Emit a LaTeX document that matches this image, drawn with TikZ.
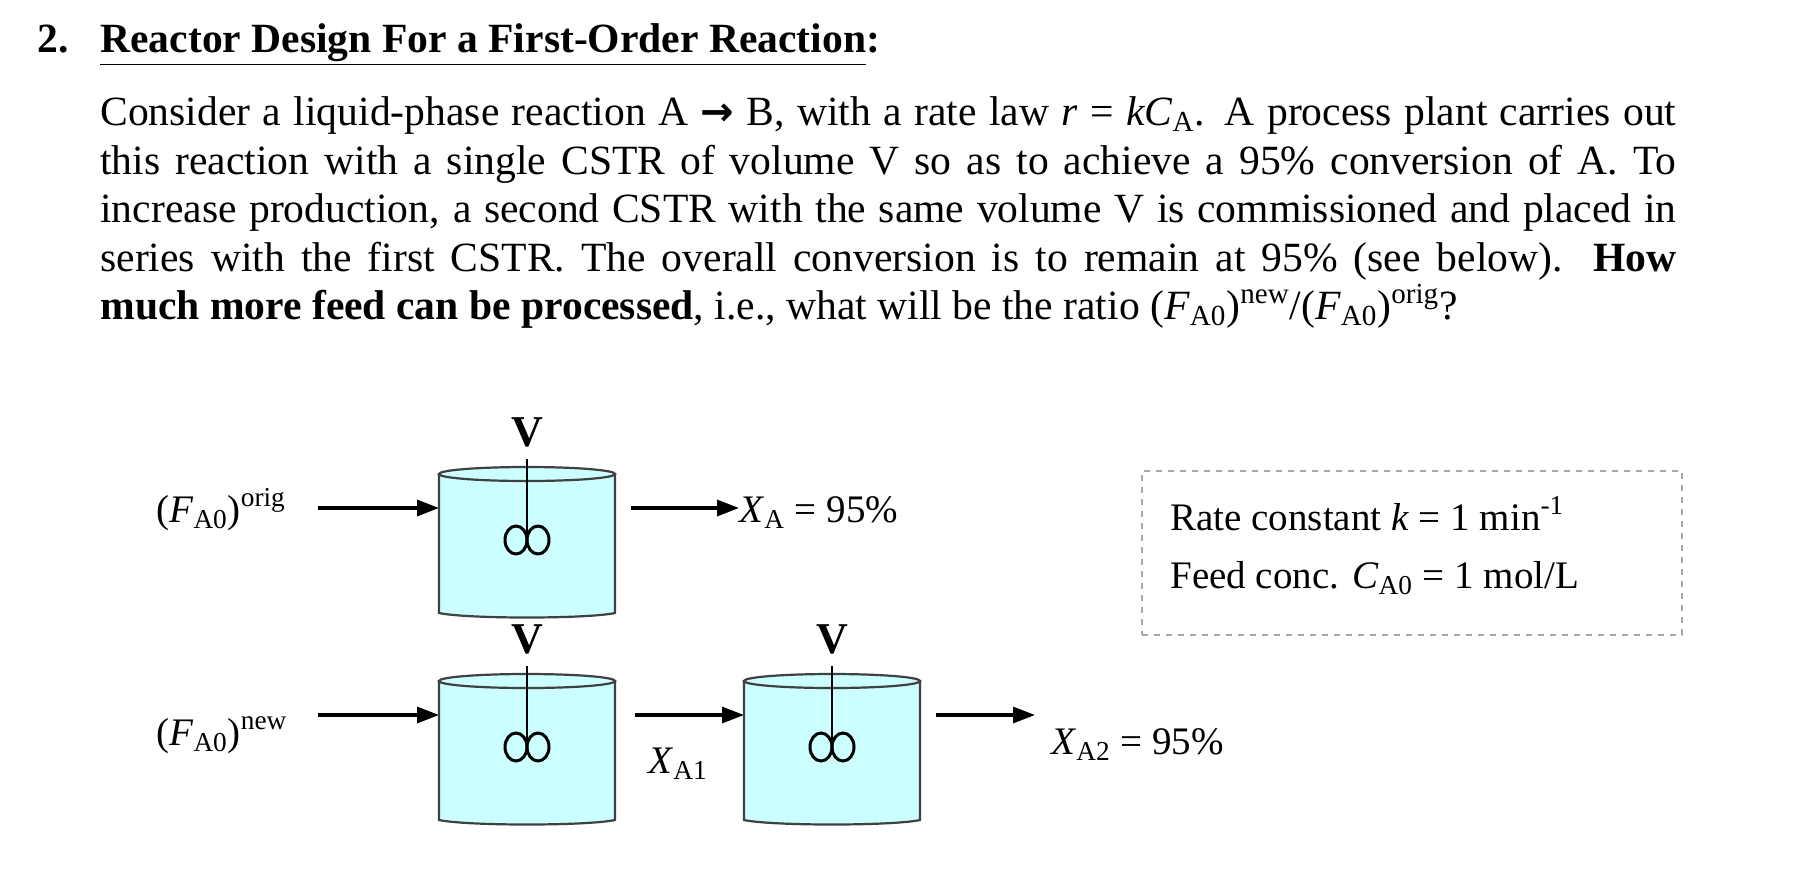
\documentclass[tikz,border=0pt]{standalone}
\usepackage{fontspec}
\setmainfont{Liberation Serif}
\usetikzlibrary{arrows.meta}
\definecolor{liq}{RGB}{204,255,255}
\tikzset{
  flow/.style={line width=1.6pt,-{Triangle[length=11pt,width=8pt]}},
  vlbl/.style={font=\fontsize{22}{24}\selectfont\bfseries,inner sep=0pt},
  txt/.style={font=\fontsize{20.8}{24}\selectfont,inner sep=0pt,anchor=base west},
  dtxt/.style={font=\fontsize{19.5}{24}\selectfont,inner sep=0pt,anchor=base west},
  imp/.style={line width=1.5pt}
}
\newcommand{\reactor}[3]{% x, ytop, name
  \begin{scope}[shift={(#1,#2)}]
    \path[fill=liq,draw=black!75,line width=1.1pt] (-88,0) -- (-88,139) .. controls (-60,145) and (60,145) .. (88,139) -- (88,0) -- cycle;
    \draw[fill=liq,draw=black!75,line width=1.1pt] (0,0) ellipse (88 and 7);
    \node[vlbl] (#3V) at (0,-42) {V};
    \draw[line width=0.8pt] (#3V.south) ++(0,-6pt) -- (0,66);
    \draw[imp] (-11,66) ellipse (11 and 14);
    \draw[imp] (11,66) ellipse (11 and 14);
  \end{scope}
  \coordinate (#3w) at (#1-88,#2+34);
  \coordinate (#3e) at (#1+88,#2+34);
}
\begin{document}
\begin{tikzpicture}[x=0.5pt,y=-0.5pt]
\useasboundingbox (0,0) rectangle (1802,884);
% title
\node[txt,font=\fontsize{20.8}{24}\selectfont\bfseries] (num) at (37,52) {2.};
\node[txt,font=\fontsize{20.8}{24}\selectfont\bfseries] (ttl) at (100,52) {\underline{Reactor Design For a First-Order Reaction}:};
% paragraph
\node[txt] (l1) at (100,125) {\makebox[788pt][s]{Consider a liquid-phase reaction A {\fontspec{DejaVu Sans}\fontsize{20}{20}\selectfont\bfseries →} B, with a rate law \textit{r} = \textit{kC}\textsubscript{A}. A process plant carries out}};
\node[txt] (l2) at (100,174) {\makebox[788pt][s]{this reaction with a single CSTR of volume V so as to achieve a 95\% conversion of A. To}};
\node[txt] (l3) at (100,222) {\makebox[788pt][s]{increase production, a second CSTR with the same volume V is commissioned and placed in}};
\node[txt] (l4) at (100,271) {\makebox[788pt][s]{series with the first CSTR. The overall conversion is to remain at 95\% (see below). \textbf{How}}};
\node[txt] (l5) at (100,319) {\textbf{much more feed can be processed}, i.e., what will be the ratio (\textit{F}\textsubscript{A0})\textsuperscript{new}/(\textit{F}\textsubscript{A0})\textsuperscript{orig}?};
% row 1
\reactor{527}{474}{ra}
\node[dtxt] (f1) at (156,522) {(\textit{F}\textsubscript{A0})\textsuperscript{orig}};
\coordinate (s1) at (318,508);
\draw[flow] (s1) -- (raw);
\node[dtxt] (x1) at (739,522) {\textit{X}\textsubscript{A} = 95\%};
\draw[flow] ([xshift=8]rae) -- (x1.west|-rae);
% box
\node[draw=black!35,dashed,line width=0.8pt,minimum width=270pt,minimum height=82pt,anchor=north west] (box) at (1141,470) {};
\node[dtxt] (k) at (1170,530) {Rate constant \textit{k} = 1 min\textsuperscript{-1}};
\node[dtxt] (c) at (1170,588) {Feed conc. \textit{C}\textsubscript{A0} = 1 mol/L};
% row 2
\reactor{527}{681}{rb}
\reactor{832}{681}{rc}
\node[dtxt] (f2) at (156,745) {(\textit{F}\textsubscript{A0})\textsuperscript{new}};
\coordinate (s2) at (318,715);
\draw[flow] (s2) -- (rbw);
\draw[flow] ([xshift=10]rbe) -- (rcw);
\node[dtxt] (xa1) at (648,773) {\textit{X}\textsubscript{A1}};
\node[dtxt] (x2) at (1051,754) {\textit{X}\textsubscript{A2} = 95\%};
\draw[flow] ([xshift=8]rce) -- ([xshift=-8]x2.west|-rce);
\end{tikzpicture}
\end{document}
